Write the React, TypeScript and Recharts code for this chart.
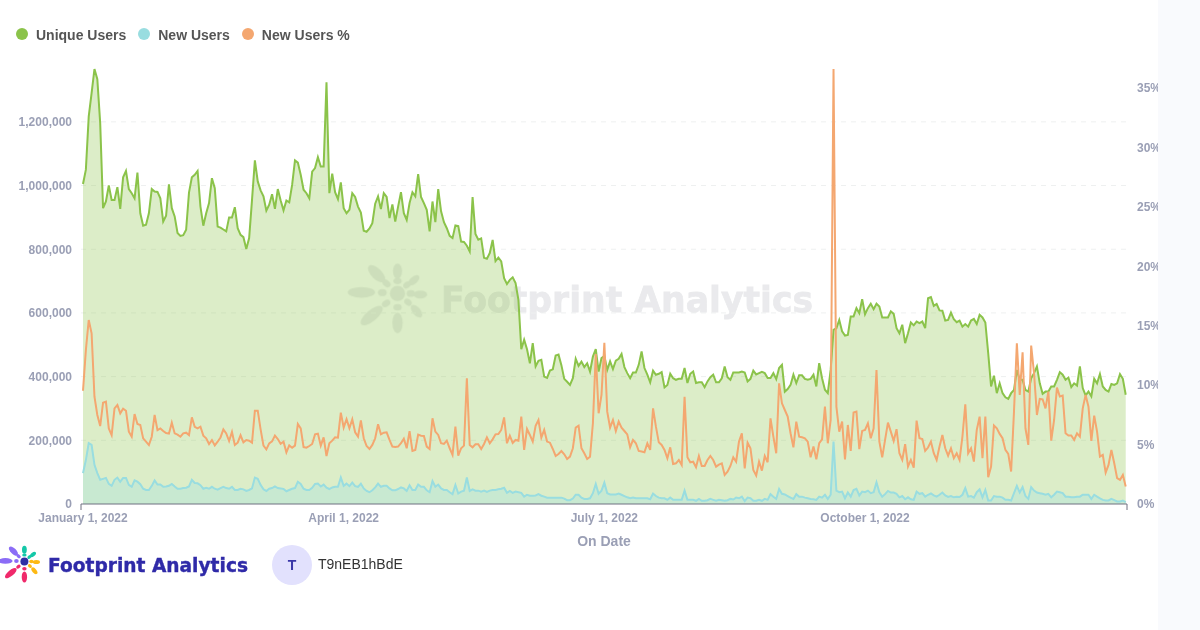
import { ComposedChart, Area, Line, XAxis, YAxis, CartesianGrid, Legend } from 'recharts';

// daily values for 2022 (users in thousands)
const uniqueUsersK = [
  1005, 1050, 1217, 1290, 1366, 1334, 1196, 929, 950, 1000,
  955, 955, 995, 927, 1026, 1046, 989, 976, 960, 1041,
  913, 874, 877, 913, 989, 981, 980, 960, 887, 905,
  1004, 929, 903, 851, 842, 844, 861, 978, 1026, 1034,
  1046, 934, 874, 913, 945, 1023, 992, 871, 868, 862,
  856, 900, 900, 932, 866, 845, 838, 801, 835, 955,
  1079, 1013, 985, 966, 921, 940, 973, 927, 989, 953,
  922, 953, 947, 1002, 1079, 1072, 1034, 987, 976, 960,
  1044, 1055, 1089, 1060, 1060, 1324, 976, 1037, 979, 957,
  1010, 929, 913, 924, 976, 964, 934, 915, 858, 855,
  865, 882, 943, 966, 926, 976, 964, 898, 941, 887,
  934, 979, 913, 892, 945, 979, 966, 1036, 964, 945,
  924, 856, 950, 885, 989, 919, 885, 866, 842, 835,
  875, 873, 824, 823, 811, 793, 964, 848, 830, 834,
  773, 770, 788, 829, 763, 774, 762, 709, 691, 704,
  712, 694, 641, 486, 516, 486, 442, 505, 432, 450,
  453, 400, 396, 419, 423, 466, 469, 436, 393, 384,
  374, 395, 456, 434, 447, 430, 442, 416, 463, 486,
  416, 458, 465, 421, 448, 424, 450, 456, 471, 430,
  411, 395, 413, 413, 437, 479, 427, 406, 382, 419,
  406, 409, 414, 366, 374, 409, 395, 390, 393, 393,
  427, 380, 409, 416, 380, 382, 382, 367, 385, 398,
  406, 382, 382, 395, 432, 398, 390, 413, 413, 413,
  416, 413, 385, 393, 419, 407, 411, 415, 411, 396,
  396, 411, 392, 427, 437, 353, 361, 374, 406, 380,
  404, 404, 393, 390, 393, 406, 369, 442, 395, 359,
  348, 421, 547, 552, 578, 542, 529, 531, 589, 589,
  615, 599, 643, 596, 615, 629, 612, 629, 620, 586,
  586, 586, 605, 597, 552, 536, 563, 505, 536, 570,
  561, 573, 568, 573, 552, 646, 650, 622, 628, 608,
  607, 576, 578, 601, 580, 571, 576, 557, 565, 557,
  576, 581, 565, 594, 586, 570, 474, 369, 403, 348,
  379, 348, 335, 330, 348, 358, 421, 390, 390, 358,
  353, 395, 411, 432, 379, 346, 353, 353, 369, 369,
  390, 414, 406, 390, 397, 367, 379, 372, 432, 364,
  341, 353, 338, 393, 379, 408, 369, 358, 353, 377,
  374, 379, 408, 393, 343,
];

const newUsersK = [
  97, 138, 191, 186, 123, 97, 76, 79, 82, 63,
  57, 76, 83, 70, 82, 82, 60, 54, 74, 70,
  62, 48, 44, 44, 57, 74, 61, 61, 54, 55,
  57, 63, 55, 48, 48, 50, 51, 55, 76, 66,
  65, 59, 48, 51, 48, 54, 48, 45, 50, 54,
  50, 48, 54, 44, 44, 48, 46, 41, 44, 49,
  83, 79, 60, 46, 41, 48, 50, 55, 50, 49,
  47, 40, 44, 48, 50, 70, 63, 48, 44, 44,
  51, 63, 64, 55, 61, 51, 47, 52, 54, 54,
  83, 57, 64, 56, 67, 56, 54, 64, 49, 41,
  37, 43, 52, 64, 54, 57, 57, 49, 43, 43,
  47, 52, 49, 41, 59, 44, 44, 61, 54, 54,
  43, 37, 72, 54, 61, 49, 44, 44, 37, 31,
  60, 33, 39, 42, 83, 41, 46, 42, 42, 39,
  42, 38, 42, 44, 44, 46, 48, 51, 35, 41,
  35, 39, 37, 35, 23, 29, 26, 26, 27, 31,
  26, 23, 20, 20, 20, 20, 20, 20, 17, 12,
  12, 17, 29, 29, 20, 16, 16, 18, 34, 63,
  32, 42, 67, 34, 30, 30, 30, 33, 29, 25,
  21, 18, 20, 18, 18, 18, 18, 18, 15, 33,
  25, 20, 18, 18, 13, 20, 13, 13, 13, 13,
  42, 13, 13, 13, 10, 16, 10, 10, 12, 16,
  13, 10, 13, 12, 10, 12, 16, 14, 20, 18,
  23, 9, 20, 18, 10, 10, 13, 10, 16, 13,
  31, 23, 16, 47, 32, 30, 25, 20, 16, 31,
  23, 23, 20, 18, 16, 15, 13, 23, 20, 29,
  16, 29, 196, 42, 37, 39, 18, 36, 23, 44,
  48, 27, 39, 37, 42, 34, 37, 68, 37, 23,
  31, 41, 36, 36, 32, 21, 25, 15, 21, 15,
  13, 39, 32, 34, 23, 29, 33, 27, 23, 29,
  36, 27, 22, 25, 21, 23, 22, 29, 50, 23,
  25, 20, 37, 46, 21, 44, 11, 11, 25, 23,
  23, 20, 13, 13, 11, 34, 57, 36, 53, 25,
  16, 53, 42, 36, 34, 32, 29, 32, 21, 29,
  39, 37, 34, 23, 23, 21, 21, 23, 23, 29,
  29, 29, 16, 29, 23, 18, 13, 11, 11, 16,
  12, 8, 8, 11, 6,
];

const newUsersPct = [
  9.53, 12.95, 15.48, 14.36, 9.03, 7.49, 6.56, 8.52, 8.61, 6.36,
  5.8, 8.05, 8.33, 7.63, 8.02, 7.85, 6.08, 5.66, 7.57, 6.73,
  6.65, 5.52, 5.24, 4.96, 5.66, 7.49, 6.22, 6.36, 6.14, 5.97,
  5.92, 6.84, 5.94, 5.83, 5.66, 5.94, 6.0, 5.8, 7.29, 6.5,
  6.36, 6.5, 5.75, 5.52, 5.05, 5.38, 4.93, 5.24, 5.6, 6.28,
  5.94, 5.3, 6.06, 4.96, 5.16, 5.78, 5.19, 5.38, 5.33, 5.16,
  7.85, 7.85, 6.28, 4.91, 4.6, 5.1, 5.27, 5.75, 5.47, 5.07,
  5.24, 4.35, 4.93, 4.74, 4.91, 6.73, 6.36, 4.79, 4.74, 4.88,
  5.05, 5.86, 5.92, 4.91, 5.61, 4.04, 5.1, 5.33, 5.61, 5.58,
  7.69, 6.43, 7.13, 6.37, 7.13, 6.03, 5.67, 7.04, 5.53, 4.88,
  4.63, 4.97, 5.53, 6.71, 5.86, 6.0, 6.03, 5.39, 4.83, 4.8,
  4.83, 5.11, 5.5, 4.69, 6.12, 4.46, 4.55, 5.84, 5.75, 5.72,
  4.83, 4.63, 7.21, 6.09, 5.81, 5.11, 5.05, 5.33, 4.69, 4.13,
  6.51, 4.07, 4.69, 4.91, 10.58, 4.97, 4.77, 5.02, 5.02, 4.63,
  5.05, 5.61, 5.11, 5.44, 5.86, 5.89, 6.23, 7.29, 5.11, 5.75,
  5.14, 5.39, 5.33, 7.35, 4.55, 6.31, 5.81, 5.25, 6.57, 7.07,
  5.58, 6.23, 5.25, 5.16, 4.63, 4.04, 4.21, 4.46, 4.18, 3.79,
  3.99, 4.69, 6.43, 6.59, 4.69, 4.27, 3.79, 3.98, 6.79, 12.62,
  7.63, 9.17, 13.57, 7.77, 6.42, 7.07, 6.14, 6.93, 6.42, 6.14,
  5.86, 4.77, 5.39, 5.11, 4.46, 4.41, 4.35, 5.11, 4.55, 8.05,
  6.51, 5.19, 4.97, 4.55, 3.84, 4.77, 3.37, 3.42, 3.7, 3.28,
  9.03, 3.93, 3.51, 3.56, 3.09, 4.04, 3.2, 3.2, 3.7, 4.04,
  3.7, 3.14, 3.31, 3.42, 2.44, 2.72, 3.2, 3.93, 3.56, 5.25,
  5.95, 3.0, 5.16, 4.69, 2.86, 2.39, 3.56, 2.81, 4.04, 3.51,
  7.21, 5.67, 4.27, 10.15, 8.47, 7.91, 7.35, 5.95, 4.77, 6.93,
  5.67, 5.61, 5.53, 5.25, 3.93, 4.83, 3.76, 5.11, 5.44, 8.19,
  5.11, 7.07, 36.6, 8.19, 6.09, 6.93, 3.76, 6.65, 4.47, 7.69,
  7.77, 4.61, 6.15, 6.23, 6.79, 5.53, 6.37, 11.28, 5.25, 3.93,
  5.39, 6.85, 6.09, 5.31, 6.29, 4.27, 3.71, 5.03, 3.15, 3.71,
  3.06, 7.02, 5.53, 5.47, 4.47, 4.75, 5.25, 4.27, 3.71, 4.83,
  5.81, 4.69, 4.07, 4.69, 3.85, 4.27, 3.71, 5.67, 8.39, 4.27,
  4.69, 3.57, 6.23, 7.35, 3.85, 7.35, 2.25, 3.15, 6.6, 6.37,
  5.9, 5.53, 4.55, 4.21, 2.73, 7.77, 13.52, 9.18, 12.77, 6.37,
  4.97, 13.33, 11.0, 7.49, 8.84, 8.81, 8.05, 9.46, 5.33, 7.07,
  9.79, 9.04, 9.12, 5.95, 5.76, 5.76, 5.39, 5.95, 5.67, 8.05,
  9.18, 8.19, 5.31, 7.44, 6.09, 3.99, 4.13, 2.64, 3.29, 4.55,
  3.43, 2.17, 2.03, 2.45, 1.47,
];

const xTickDays = [0, 91, 182, 273];
const xTickLabels = ['January 1, 2022', 'April 1, 2022', 'July 1, 2022', 'October 1, 2022'];
const leftTicks = [0, 200000, 400000, 600000, 800000, 1000000, 1200000];
const gridValues = [200000, 400000, 600000, 800000, 1000000, 1200000];
const rightTicks = [0, 5, 10, 15, 20, 25, 30, 35];

const rows = uniqueUsersK.map((v, i) => ({
  day: i,
  unique: v * 1000,
  fresh: newUsersK[i] * 1000,
  pct: newUsersPct[i],
}));

const FONT = '"Liberation Sans", Arial, sans-serif';
const AXIS_GREY = '#9a9fb5';
const X_START = -0.7;
const X_END = 364.45;

// the footprint mark: [cx, cy, rx, ry, angle, colour]
const petals: [number, number, number, number, number, string][] = [
  [0, -11.8, 2.4, 4, 0, '#14c8a8'],
  [8.6, -7, 1.9, 3.5, 50, '#14c8a8'],
  [12, 0.5, 3.6, 2.1, 0, '#fdb913'],
  [10, 9.3, 2.1, 4, -40, '#fdb913'],
  [0, 15.5, 2.7, 5.5, 0, '#f02a6b'],
  [-13.6, 11.6, 2.9, 7.2, 50, '#f02a6b'],
  [-19, -0.6, 7.2, 2.8, 0, '#8b6cf6'],
  [-11, -10.4, 2.8, 5.8, -45, '#8b6cf6'],
  [-8, -0.5, 2.3, 1.9, 0, '#8b6cf6'],
  [-5.8, -5.3, 2.4, 1.7, 40, '#8b6cf6'],
  [0, -6.5, 2.2, 1.6, 0, '#14c8a8'],
  [5, -4.5, 2.2, 1.6, -40, '#14c8a8'],
  [7, 0, 2.2, 1.8, 0, '#fdb913'],
  [5.5, 4.6, 2.2, 1.6, 40, '#fdb913'],
  [0, 7.3, 2.2, 1.7, 0, '#f02a6b'],
  [-6, 5.2, 2.4, 1.7, -35, '#f02a6b'],
];

function Mark({ x, y, scale, mono }: { x: number; y: number; scale: number; mono?: string }) {
  return (
    <g transform={`translate(${x} ${y}) scale(${scale})`}>
      {petals.map(([cx, cy, rx, ry, a, c], i) => (
        <ellipse key={i} cx={cx} cy={cy} rx={rx} ry={ry} fill={mono ?? c} transform={`rotate(${a} ${cx} ${cy})`} />
      ))}
      <circle r={4} fill={mono ?? '#2f2fa5'} />
    </g>
  );
}

function XTick({ x, y, payload }: any) {
  const idx = xTickDays.indexOf(payload.value);
  if (idx < 0) {
    return <line x1={x} x2={x} y1={y - 8} y2={y - 2} stroke="#6f7180" />;
  }
  return (
    <text x={x} y={y + 10} textAnchor="middle" fontFamily={FONT} fontSize={12} fontWeight={700} fill={AXIS_GREY}>
      {xTickLabels[idx]}
    </text>
  );
}

function LegendRow({ payload }: any) {
  return (
    <div style={{ display: 'flex', alignItems: 'center', height: 69, paddingLeft: 16, fontFamily: FONT }}>
      {(payload ?? []).map((p: any) => (
        <div key={p.value} style={{ display: 'flex', alignItems: 'center', marginRight: 12 }}>
          <span style={{ width: 12, height: 12, borderRadius: 6, background: p.color, marginRight: 8, marginTop: -1 }} />
          <span style={{ fontSize: 14, fontWeight: 700, color: '#555' }}>{p.value}</span>
        </div>
      ))}
    </div>
  );
}

export default function App() {
  return (
    <div style={{ position: 'absolute', left: 0, top: 0, width: 1200, height: 630, background: '#fff', overflow: 'hidden' }}>
      {/* watermark sits behind the chart */}
      <svg width={1200} height={630} style={{ position: 'absolute', left: 0, top: 0 }}>
        <g opacity={0.1}>
          <Mark x={397.5} y={293.5} scale={1.9} mono="#2a2f45" />
          <text x={441} y={312} fontFamily='"DejaVu Sans", sans-serif' fontWeight={700} fontSize={36} fill="#2a2f45" stroke="#2a2f45" strokeWidth={0.8} textLength={372} lengthAdjust="spacingAndGlyphs">
            Footprint Analytics
          </text>
        </g>
      </svg>

      <div style={{ position: 'absolute', left: 0, top: 0 }}>
        <ComposedChart width={1200} height={630} data={rows} margin={{ top: 0, right: 0, bottom: 82, left: 0 }}>
          <Legend verticalAlign="top" align="left" height={69} itemSorter={null} content={<LegendRow />} wrapperStyle={{ left: 0, top: 0 }} />
          <CartesianGrid yAxisId="left" vertical={false} horizontalValues={gridValues} stroke="#eef0f0" strokeDasharray="5 5" />
          <XAxis
            dataKey="day"
            type="number"
            domain={[X_START, X_END]}
            ticks={[X_START, ...xTickDays, X_END]}
            interval={0}
            tick={<XTick />}
            tickLine={false}
            height={44}
            axisLine={{ stroke: '#6f7180' }}
            label={{ value: 'On Date', position: 'insideBottom', offset: 2, fontFamily: FONT, fontSize: 14, fontWeight: 700, fill: AXIS_GREY }}
          />
          <YAxis
            yAxisId="left"
            width={81}
            domain={[0, 1366000]}
            ticks={leftTicks}
            interval={0}
            tickLine={false}
            axisLine={false}
            tickMargin={3}
            tickFormatter={(v: number) => v.toLocaleString('en-US')}
            tick={{ fontFamily: FONT, fontSize: 12, fontWeight: 700, fill: AXIS_GREY }}
          />
          <YAxis
            yAxisId="right"
            orientation="right"
            width={73}
            domain={[0, 36.6]}
            ticks={rightTicks}
            interval={0}
            tickLine={false}
            axisLine={false}
            tickMargin={4}
            tickFormatter={(v: number) => `${v}%`}
            tick={{ fontFamily: FONT, fontSize: 12, fontWeight: 700, fill: AXIS_GREY, textAnchor: 'start' }}
          />
          <Area yAxisId="left" type="linear" dataKey="unique" name="Unique Users" stroke="#8bc34a" strokeWidth={2} fill="#8bc34a" fillOpacity={0.3} dot={false} activeDot={false} isAnimationActive={false} />
          <Area yAxisId="left" type="linear" dataKey="fresh" name="New Users" stroke="#99dde0" strokeWidth={2} fill="#99dde3" fillOpacity={0.3} dot={false} activeDot={false} isAnimationActive={false} />
          <Line yAxisId="right" type="linear" dataKey="pct" name="New Users %" stroke="#f4a770" strokeWidth={2} dot={false} activeDot={false} isAnimationActive={false} />
        </ComposedChart>
      </div>

      <svg width={1200} height={630} style={{ position: 'absolute', left: 0, top: 0, pointerEvents: 'none' }}>
        <Mark x={24.4} y={561.5} scale={1} />
        <text x={48} y={572} fontFamily='"DejaVu Sans", sans-serif' fontWeight={700} fontSize={20} fill="#2f2aa8" stroke="#2f2aa8" strokeWidth={0.4} textLength={200} lengthAdjust="spacingAndGlyphs">
          Footprint Analytics
        </text>
        <circle cx={292} cy={565} r={20} fill="#e2e1fd" />
        <text x={292} y={570} textAnchor="middle" fontFamily={FONT} fontSize={14} fontWeight={700} fill="#3a37a8">T</text>
        <text x={318} y={569} fontFamily={FONT} fontSize={14} fill="#333">T9nEB1hBdE</text>
      </svg>

      {/* page side strip, it cuts the right axis labels */}
      <div style={{ position: 'absolute', left: 1158, top: 0, width: 42, height: 630, background: '#f9fafd' }} />
    </div>
  );
}
